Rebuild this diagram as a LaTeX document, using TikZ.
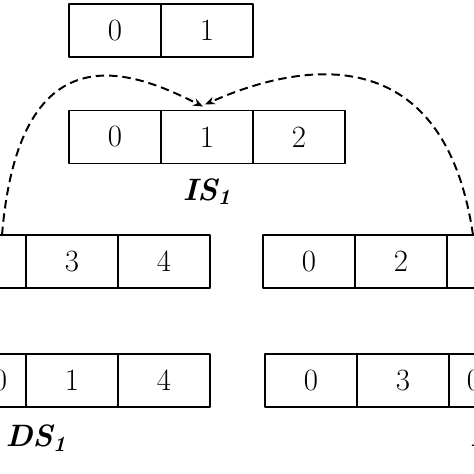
\documentclass[tikz,border=0pt]{standalone}
\usetikzlibrary{positioning,calc,arrows.meta}
\begin{document}
\begin{tikzpicture}[line cap=round, line join=round, >={Stealth[length=7pt,width=5.5pt]}, font=\fontsize{22}{26}\selectfont]
	\tikzset{cell/.style={draw, line width=1.2pt, minimum width=2.3cm, minimum height=1.325cm, inner sep=0pt, outer sep=0pt},
		setname/.style={font=\fontsize{22}{26}\selectfont\bfseries\itshape},
		link/.style={->, line width=1.4pt, line cap=butt, dash pattern=on 6pt off 3.5pt}}
	\useasboundingbox (0,0) rectangle (11.85,11.85);
	\clip (0,0) rectangle (11.85,11.85);
	% top array
	\node[cell] (t1) at (2.875,11.0875) {0};
	\node[cell, right=0pt of t1] (t2) {1};
	% IS_1
	\node[cell] (b1) at (2.875,8.425) {0};
	\node[cell, right=0pt of b1] (b2) {1};
	\node[cell, right=0pt of b2] (b3) {2};
	\node[setname, below=0.25cm of b2] (is) {IS\textsubscript{1}};
	% third row
	\node[cell] (l1) at (-0.5,5.3125) {};
	\node[cell, right=0pt of l1] (l2) {3};
	\node[cell, right=0pt of l2] (l3) {4};
	\node[cell] (r1) at (7.725,5.3125) {0};
	\node[cell, right=0pt of r1] (r2) {2};
	\node[cell, right=0pt of r2] (r3) {};
	% DS_1
	\node[cell] (d1) at (-0.5,2.3375) {};
	\node[cell, right=0pt of d1] (d2) {1};
	\node[cell, right=0pt of d2] (d3) {4};
	\node[cell] (e1) at (7.775,2.3375) {0};
	\node[cell, right=0pt of e1] (e2) {3};
	\node[cell, right=0pt of e2] (e3) {};
	\node (dz) at (0,2.3375) {0};
	\node (ez) at (11.85,2.3375) {0};
	\node[setname] (ds) at (0.9,0.9) {DS\textsubscript{1}};
	\node[setname, anchor=west] (dt) at (11.62,0.9) {DS\textsubscript{2}};
	% links
	\coordinate (la) at ($(l1.north east)+(-0.6,0)$);
	\coordinate (ra) at ($(r3.north west)+(0.65,0)$);
	\coordinate (lb) at ($(b2.north)+(-0.1,0.1)$);
	\coordinate (rb) at ($(b2.north)+(-0.05,0.15)$);
	\draw[link] (la) .. controls (0.5,11.35) and (3.5,9.975) .. (lb);
	\draw[link] (ra) .. controls (11,11.6) and (6.5,9.85) .. (rb);
\end{tikzpicture}
\end{document}
